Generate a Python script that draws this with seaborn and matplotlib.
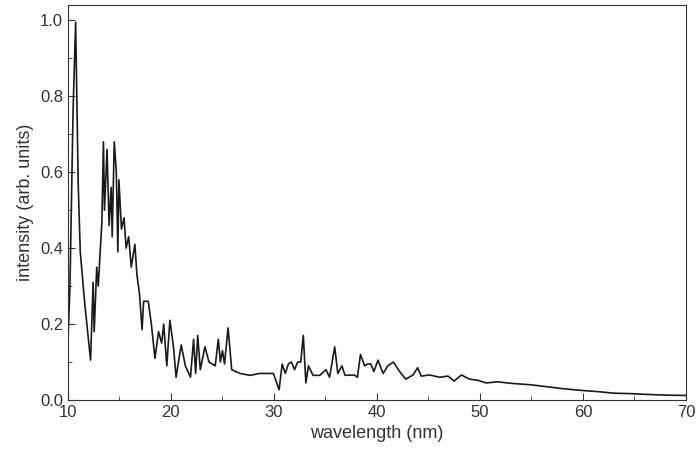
import matplotlib
matplotlib.use("Agg")
import matplotlib.pyplot as plt
import seaborn as sns
import pandas as pd
from matplotlib.ticker import MultipleLocator

wavelength = [10.0, 10.2, 10.5, 10.75, 11.0, 11.2, 11.65, 12.2, 12.45, 12.55, 12.8, 12.95, 13.3, 13.45,
              13.55, 13.8, 14.0, 14.2, 14.3, 14.5, 14.7, 14.85, 14.95, 15.2, 15.45, 15.65, 15.9, 16.15,
              16.5, 16.7, 16.95, 17.2, 17.35, 17.8, 18.1, 18.45, 18.8, 19.1, 19.3, 19.6, 19.9, 20.25,
              20.5, 21.0, 21.4, 21.9, 22.2, 22.4, 22.6, 22.85, 23.3, 23.7, 24.3, 24.6, 24.8, 25.0,
              25.2, 25.55, 25.9, 26.7, 27.7, 28.6, 29.3, 29.95, 30.5, 30.8, 31.1, 31.4, 31.7, 32.0,
              32.3, 32.6, 32.85, 33.1, 33.35, 33.8, 34.45, 35.05, 35.4, 35.9, 36.2, 36.6, 36.9, 37.8,
              38.1, 38.4, 38.8, 39.1, 39.4, 39.7, 40.1, 40.6, 41.05, 41.6, 42.2, 42.8, 43.5, 43.95,
              44.3, 45.1, 46.1, 46.9, 47.5, 48.2, 49.0, 49.8, 50.6, 51.7, 53.0, 55.0, 56.5, 58.0,
              60.0, 61.5, 63.0, 64.5, 66.0, 68.0, 70.0]
intensity = [0.15, 0.30, 0.76, 0.995, 0.57, 0.39, 0.25, 0.105, 0.31, 0.18, 0.35, 0.30, 0.47, 0.68,
             0.50, 0.66, 0.46, 0.56, 0.43, 0.68, 0.60, 0.39, 0.58, 0.45, 0.48, 0.40, 0.43, 0.35,
             0.41, 0.33, 0.28, 0.185, 0.26, 0.26, 0.20, 0.11, 0.18, 0.15, 0.20, 0.09, 0.21, 0.14,
             0.06, 0.145, 0.09, 0.06, 0.16, 0.07, 0.17, 0.08, 0.14, 0.10, 0.09, 0.16, 0.10, 0.13,
             0.095, 0.19, 0.08, 0.07, 0.065, 0.07, 0.07, 0.07, 0.027, 0.095, 0.07, 0.095, 0.10, 0.08,
             0.10, 0.10, 0.17, 0.045, 0.09, 0.065, 0.065, 0.08, 0.06, 0.14, 0.07, 0.09, 0.065, 0.066,
             0.06, 0.12, 0.09, 0.095, 0.095, 0.075, 0.105, 0.07, 0.09, 0.10, 0.075, 0.055, 0.066, 0.085,
             0.063, 0.066, 0.06, 0.063, 0.05, 0.066, 0.055, 0.052, 0.045, 0.048, 0.044, 0.04, 0.035, 0.03,
             0.025, 0.022, 0.018, 0.017, 0.015, 0.013, 0.012]

df = pd.DataFrame({"wavelength": wavelength, "intensity": intensity})

sns.set_style("ticks")
plt.rcParams["font.family"] = ["Liberation Sans", "DejaVu Sans"]

fig = plt.figure(figsize=(7, 4.63), dpi=100)
ax = fig.add_axes([0.097, 0.136, 0.883, 0.853])
sns.lineplot(data=df, x="wavelength", y="intensity", color="#1a1a1a", linewidth=1.2, ax=ax)
ax.set_xlim(10, 70)
ax.set_ylim(0, 1.04)
ax.xaxis.set_major_locator(MultipleLocator(10))
ax.xaxis.set_minor_locator(MultipleLocator(5))
ax.yaxis.set_major_locator(MultipleLocator(0.2))
ax.yaxis.set_minor_locator(MultipleLocator(0.1))
ax.tick_params(which="both", direction="in", top=False, right=False, labelsize=12, color="#333333")
ax.tick_params(which="major", length=5)
ax.tick_params(which="minor", length=3)
for s in ax.spines.values():
    s.set_visible(True)
    s.set_color("#333333")
ax.set_xlabel("wavelength (nm)", fontsize=13, color="#333333")
ax.set_ylabel("intensity (arb. units)", fontsize=13, color="#333333")
for t in ax.get_xticklabels() + ax.get_yticklabels():
    t.set_color("#333333")
fig.savefig("out.png", dpi=100)
